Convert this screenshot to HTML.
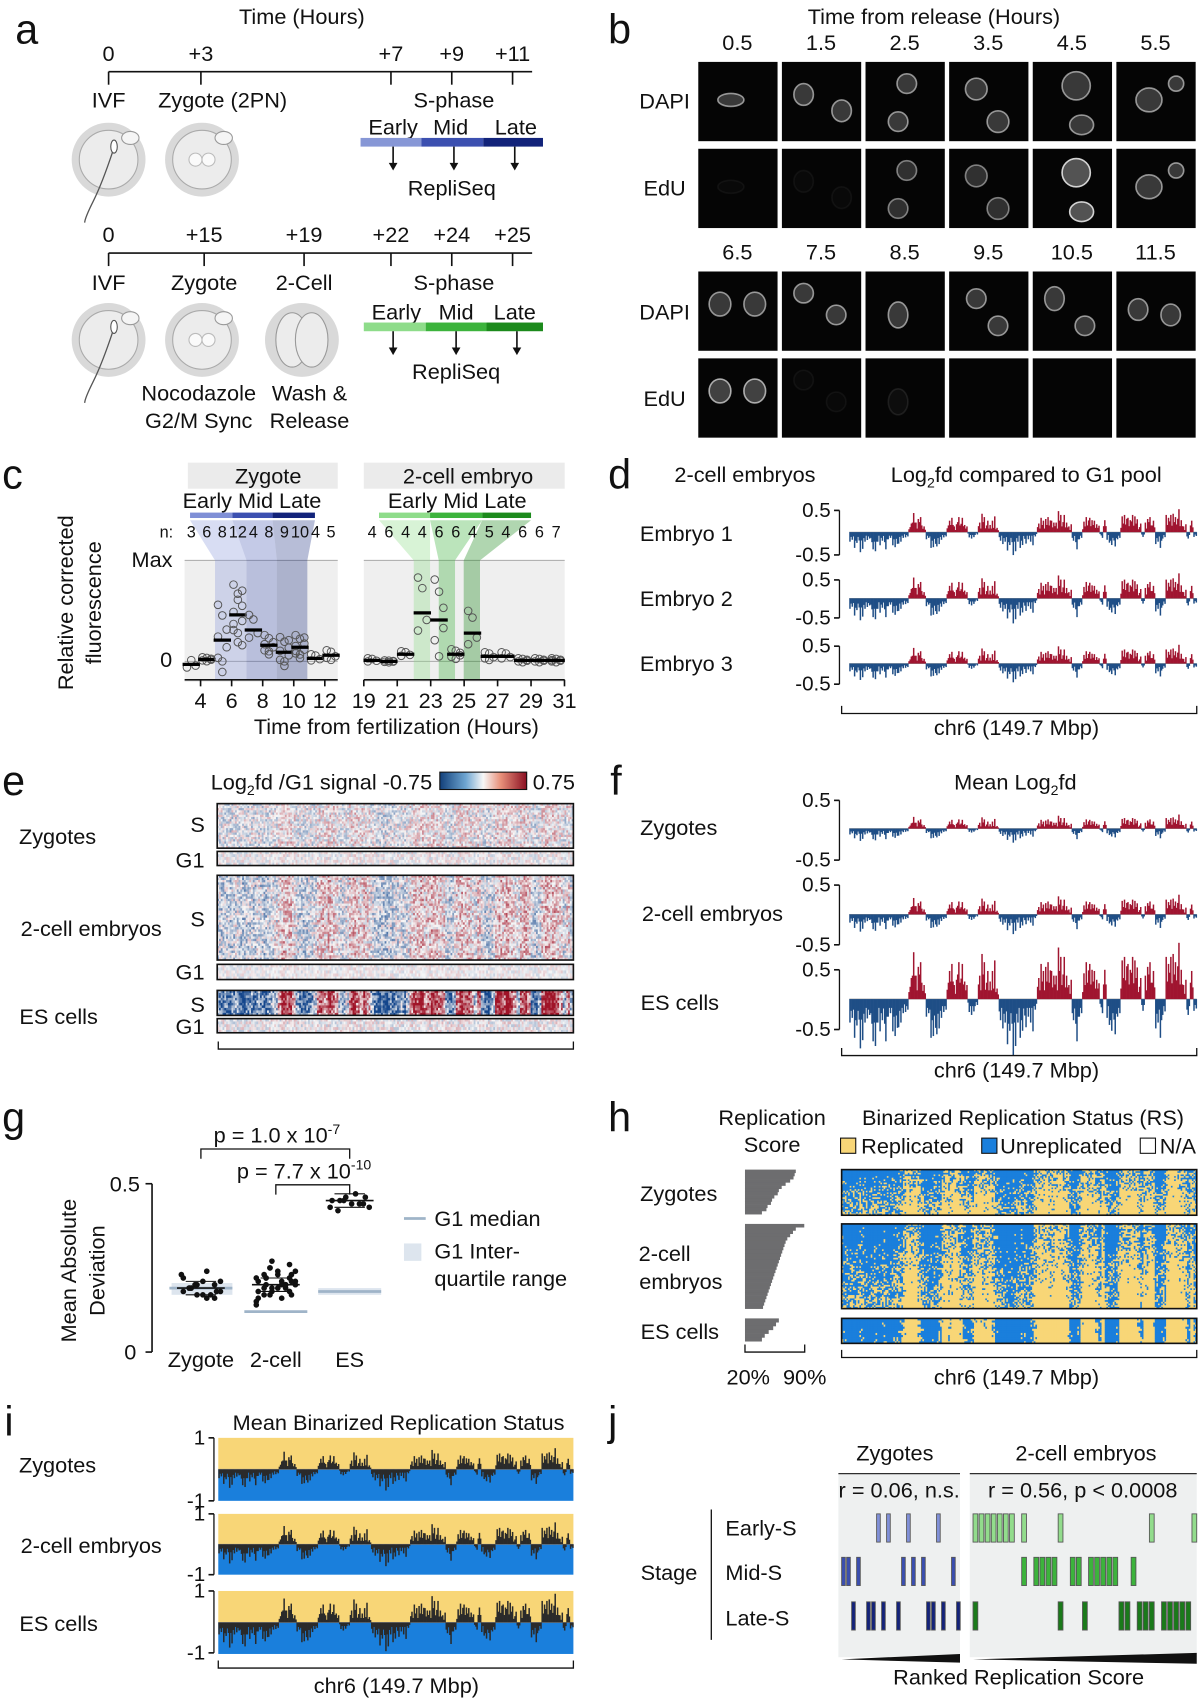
<!DOCTYPE html>
<html><head><meta charset="utf-8"><style>
html,body{margin:0;padding:0;background:#fff}
svg{display:block;font-family:"Liberation Sans",sans-serif}
text{fill:#111}
</style></head><body>
<svg id="fig" width="1200" height="1705" viewBox="0 0 1105 1570" preserveAspectRatio="none" xmlns="http://www.w3.org/2000/svg">
<g font-size="20" text-anchor="middle">
<text x="14" y="40" font-size="38" text-anchor="start">a</text>
<text x="560" y="40" font-size="38" text-anchor="start">b</text>
<text x="2" y="450" font-size="38" text-anchor="start">c</text>
<text x="560" y="450" font-size="38" text-anchor="start">d</text>
<text x="2" y="732" font-size="38" text-anchor="start">e</text>
<text x="562" y="732" font-size="38" text-anchor="start">f</text>
<text x="2" y="1042" font-size="38" text-anchor="start">g</text>
<text x="560" y="1042" font-size="38" text-anchor="start">h</text>
<text x="4" y="1322" font-size="38" text-anchor="start">i</text>
<text x="560" y="1322" font-size="38" text-anchor="start">j</text>

<text x="278" y="22">Time (Hours)</text>
<g>
<text x="100" y="56">0</text><text x="185" y="56">+3</text><text x="360" y="56">+7</text><text x="416" y="56">+9</text><text x="472" y="56">+11</text>
<text x="100" y="99">IVF</text><text x="205" y="99">Zygote (2PN)</text><text x="418" y="99">S-phase</text>
<text x="362" y="124">Early</text><text x="415" y="124">Mid</text><text x="475" y="124">Late</text>
<text x="416" y="180">RepliSeq</text>
</g>
<g>
<text x="100" y="223">0</text><text x="188" y="223">+15</text><text x="280" y="223">+19</text><text x="360" y="223">+22</text><text x="416" y="223">+24</text><text x="472" y="223">+25</text>
<text x="100" y="267">IVF</text><text x="188" y="267">Zygote</text><text x="280" y="267">2-Cell</text><text x="418" y="267">S-phase</text>
<text x="365" y="294">Early</text><text x="420" y="294">Mid</text><text x="474" y="294">Late</text>
<text x="420" y="349">RepliSeq</text>
<text x="183" y="369">Nocodazole</text><text x="183" y="394">G2/M Sync</text>
<text x="285" y="369">Wash &amp;</text><text x="285" y="394">Release</text>
</g>

<text x="860" y="22">Time from release (Hours)</text>
<g>
<text x="612" y="100">DAPI</text><text x="612" y="180">EdU</text><text x="612" y="294">DAPI</text><text x="612" y="374">EdU</text>
</g>

<rect x="173" y="426" width="138" height="24" fill="#ebebeb"/>
<rect x="335" y="426" width="185" height="24" fill="#ebebeb"/>
<text x="247" y="445">Zygote</text>
<text x="431" y="445">2-cell embryo</text>
<text x="232" y="468">Early Mid Late</text>
<text x="421" y="468">Early Mid Late</text>
<text x="147" y="495" font-size="15" text-anchor="start">n:</text>
<text x="140" y="522">Max</text>
<text x="153" y="614">0</text>
<text x="365" y="676">Time from fertilization (Hours)</text>
<text transform="translate(67,555) rotate(-90)">Relative corrected</text>
<text transform="translate(93,555) rotate(-90)">fluorescence</text>

<text x="686" y="444">2-cell embryos</text>
<text x="945" y="444">Log<tspan font-size="13" dy="5">2</tspan><tspan dy="-5">fd compared to G1 pool</tspan></text>
<g>
<text x="632" y="498">Embryo 1</text><text x="632" y="558">Embryo 2</text><text x="632" y="618">Embryo 3</text>
</g>
<text x="936" y="677">chr6 (149.7 Mbp)</text>

<text x="296" y="727">Log<tspan font-size="13" dy="5">2</tspan><tspan dy="-5">fd /G1 signal -0.75</tspan></text>
<text x="510" y="727">0.75</text>
<g>
<text x="53" y="777">Zygotes</text><text x="84" y="862">2-cell embryos</text><text x="54" y="943">ES cells</text>
<text x="182" y="766">S</text><text x="175" y="799">G1</text>
<text x="182" y="853">S</text><text x="175" y="902">G1</text>
<text x="182" y="932">S</text><text x="175" y="952">G1</text>
</g>

<text x="935" y="727">Mean Log<tspan font-size="13" dy="5">2</tspan><tspan dy="-5">fd</tspan></text>
<g>
<text x="625" y="769">Zygotes</text><text x="656" y="848">2-cell embryos</text><text x="626" y="930">ES cells</text>
</g>
<text x="936" y="992">chr6 (149.7 Mbp)</text>

<text transform="translate(70,1170) rotate(-90)">Mean Absolute</text>
<text transform="translate(96,1170) rotate(-90)">Deviation</text>
<text x="115" y="1097">0.5</text>
<text x="120" y="1252">0</text>
<text x="185" y="1259">Zygote</text>
<text x="254" y="1259">2-cell</text>
<text x="322" y="1259">ES</text>
<text x="255" y="1052">p = 1.0 x 10<tspan font-size="13" dy="-8">-7</tspan></text>
<text x="280" y="1085">p = 7.7 x 10<tspan font-size="13" dy="-8">-10</tspan></text>
<text x="400" y="1129" text-anchor="start">G1 median</text>
<text x="400" y="1159" text-anchor="start">G1 Inter-</text>
<text x="400" y="1184" text-anchor="start">quartile range</text>

<text x="711" y="1036">Replication</text>
<text x="711" y="1061">Score</text>
<text x="942" y="1036">Binarized Replication Status (RS)</text>
<g text-anchor="start">
<rect x="774" y="1048" width="14" height="14" fill="#f8d677" stroke="#111"/><text x="793" y="1062">Replicated</text>
<rect x="904" y="1048" width="14" height="14" fill="#1a7fdc" stroke="#111"/><text x="921" y="1062">Unreplicated</text>
<rect x="1050" y="1048" width="14" height="14" fill="#fff" stroke="#111"/><text x="1068" y="1062">N/A</text>
</g>
<g>
<text x="625" y="1106">Zygotes</text><text x="612" y="1161">2-cell</text><text x="627" y="1187">embryos</text><text x="626" y="1233">ES cells</text>
</g>
<text x="689" y="1275">20%</text>
<text x="741" y="1275">90%</text>
<text x="936" y="1275">chr6 (149.7 Mbp)</text>

<text x="367" y="1317">Mean Binarized Replication Status</text>
<g>
<text x="53" y="1356">Zygotes</text><text x="84" y="1430">2-cell embryos</text><text x="54" y="1502">ES cells</text>
</g>
<text x="365" y="1559">chr6 (149.7 Mbp)</text>

<text x="824" y="1345">Zygotes</text>
<text x="1000" y="1345">2-cell embryos</text>
<text x="938" y="1551">Ranked Replication Score</text>
<text x="616" y="1455">Stage</text>
<g text-anchor="start">
<text x="668" y="1414">Early-S</text><text x="668" y="1455">Mid-S</text><text x="668" y="1497">Late-S</text>
</g>
</g>
<g id="marks"></g>
</svg>
<script>
// ---------- data ----------
const chr6Profile = [-0.4,-0.6,-0.5,-0.7,-0.5,-0.3,-0.6,-0.8,-0.5,-0.4,-0.6,-0.3,-0.5,-0.7,-0.4,-0.3,-0.2,
 0.3,0.8,0.5,0.7,0.2,-0.3,-0.6,-0.7,-0.5,-0.4,-0.2,0.4,0.6,0.3,0.7,0.5,0.3,-0.2,-0.3,-0.1,
 0.5,0.7,0.4,0.3,0.6,0.2,-0.3,-0.5,-0.7,-0.6,-0.8,-0.5,-0.6,-0.4,-0.3,-0.5,-0.2,
 0.3,0.6,0.5,0.7,0.4,0.5,0.8,0.6,0.4,0.3,-0.4,-0.6,-0.3,0.4,0.7,0.5,0.6,0.3,-0.2,0.5,
 -0.4,-0.6,-0.5,-0.3,0.6,0.8,0.5,0.9,0.6,0.3,-0.2,0.5,0.7,0.4,-0.5,-0.6,-0.3,
 0.6,0.9,0.7,0.8,0.5,0.3,-0.3,0.4,-0.2];
const spikeTexture = [1,0.5,0.8,0.3,1.1,0.6,0.9,0.4,0.7,1.2,0.5];
const embryoScales = [0.55,0.6,0.45];
const meanLogfdScales = [0.25,0.35,1.0];
const meanRSScales = [0.7,0.75,0.95];
const zygTimes = [3.4,4.4,5.4,6.4,7.4,8.4,9.4,10.4,11.4,12.4];
const zygMedians = [-0.03,0.02,0.21,0.46,0.31,0.16,0.09,0.14,0.03,0.06];
const zygN = [3,6,8,12,4,8,9,10,4,5];
const zygSpread = [0.06,0.02,0.35,0.3,0.15,0.1,0.15,0.12,0.04,0.05];
const twoTimes = [19.5,20.5,21.5,22.5,23.5,24.5,25.5,26.5,27.5,28.5,29.5,30.5];
const twoMedians = [0.01,0,0.07,0.48,0.41,0.07,0.28,0.05,0.05,0.01,0.01,0.01];
const twoN = [4,6,4,4,6,6,4,5,4,6,6,7];
const twoSpread = [0.02,0.01,0.03,0.35,0.4,0.05,0.22,0.04,0.04,0.02,0.02,0.02];
const pointOffsets = [-0.5,0.7,-0.2,1.0,-0.9,0.3,0.1,-0.6,0.8,-0.3,0.5,-1.0];
const gZyg = [0.19,0.2,0.17,0.18,0.22,0.16,0.21,0.19,0.18,0.2,0.17,0.23,0.19,0.16,0.2,0.21,0.18,0.24,0.17,0.19];
const g2c = [0.2,0.22,0.18,0.24,0.16,0.21,0.19,0.23,0.17,0.25,0.2,0.15,0.22,0.18,0.27,0.2,0.21,0.16,0.24,0.19,0.23,0.17,0.2,0.14,0.22,0.26,0.19,0.21,0.18,0.2,0.23,0.17,0.21,0.25,0.19,0.22];
const gES = [0.45,0.44,0.46,0.43,0.45,0.47,0.44,0.42,0.46,0.45,0.44,0.43];
const gMedians = [0.19,0.2,0.45];
const g1Medians = [0.19,0.12,0.18];
const zygScores = [0.9,0.88,0.86,0.8,0.72,0.65,0.6,0.58,0.52,0.48,0.46,0.4,0.38,0.3];
const twoScores = [1.05,0.9,0.85,0.8,0.75,0.72,0.7,0.68,0.66,0.64,0.62,0.6,0.58,0.56,0.54,0.52,0.5,0.48,0.46,0.44,0.42,0.4,0.38,0.36,0.34,0.32];
const esScores = [0.6,0.55,0.5,0.42,0.35,0.3];
const zygEarly = [7,9,13,19], zygMid = [0,1,3,12,14,16,22], zygLate = [2,5,6,8,11,17,18,20,23];
const twoEarly = [0,1,2,3,4,5,6,8,14,29,36], twoMid = [8,10,11,12,13,16,17,19,20,21,22,23,26], twoLate = [0,14,18,24,25,27,28,29,31,32,33,34,35];

// ---------- helpers ----------
const NS = "http://www.w3.org/2000/svg";
const root = document.getElementById('marks');
function E(tag, attrs, name, parent){
  const e = document.createElementNS(NS, tag);
  for (const k in attrs) e.setAttribute(k, attrs[k]);
  
  
  (parent||root).appendChild(e);
  return e;
}
function line(x1,y1,x2,y2,name,stroke,w){return E('line',{x1,y1,x2,y2,stroke:stroke||'#111','stroke-width':w||1.5},name);}
function hash(i,j){let h=Math.sin(i*12.9898+j*78.233)*43758.5453;return h-Math.floor(h);}

// ---------- panel a ----------
function cell(cx,cy,name,kind){
  const g=E('g',{},name);
  E('circle',{cx,cy,r:34,fill:'#d9d9d9'},name+'-zona',g);
  if(kind==='two'){
    E('ellipse',{cx:cx-9,cy,rx:15,ry:25,fill:'#ececec',stroke:'#999'},name+'-blast-l',g);
    E('ellipse',{cx:cx+9,cy,rx:15,ry:25,fill:'#ececec',stroke:'#999'},name+'-blast-r',g);
  } else {
    E('circle',{cx,cy,r:27,fill:'#ececec',stroke:'#aaa'},name+'-cytoplasm',g);
    E('ellipse',{cx:cx+20,cy:cy-20,rx:8,ry:6,fill:'#f5f5f5',stroke:'#999'},name+'-polar-body',g);
    if(kind==='ivf'){
      E('path',{d:`M${cx+4},${cy-8} q-10,30 -18,46 t-8,20`,fill:'none',stroke:'#555','stroke-width':1.2},name+'-sperm-tail',g);
      E('ellipse',{cx:cx+5,cy:cy-12,rx:3,ry:6,fill:'#fff',stroke:'#555'},name+'-sperm-head',g);
    } else {
      E('circle',{cx:cx-6,cy,r:6,fill:'#fafafa',stroke:'#bbb'},name+'-pn1',g);
      E('circle',{cx:cx+6,cy,r:6,fill:'#fafafa',stroke:'#bbb'},name+'-pn2',g);
    }
  }
}
function timeline(y,xs,name){
  line(100,y,490,y,name+'-axis');
  xs.forEach((x,i)=>line(x,y,x,y+12,name+'-tick'));
}
timeline(66,[100,185,360,416,472],'timeline-1');
timeline(233,[100,188,280,360,416,472],'timeline-2');
[['#8797d6',332,388],['#3c50b0',388,445],['#12237a',445,500]].forEach((s,i)=>E('rect',{x:s[1],y:127,width:s[2]-s[1],height:8,fill:s[0]},'s-phase-bar-zygote'));
[['#8edc8a',335,392],['#3cb33c',392,448],['#1c8a1c',448,500]].forEach((s,i)=>E('rect',{x:s[1],y:297,width:s[2]-s[1],height:8,fill:s[0]},'s-phase-bar-2cell'));
function arrow(x,y1,y2,name){line(x,y1,x,y2-6,name);E('path',{d:`M${x-4},${y2-7} L${x+4},${y2-7} L${x},${y2} Z`,fill:'#111'},name+'-head');}
[362,418,474].forEach(x=>arrow(x,135,157,'repliseq-arrow-zygote'));
[362,420,476].forEach(x=>arrow(x,305,327,'repliseq-arrow-2cell'));
cell(100,147,'ivf-egg-1','ivf');cell(186,147,'zygote-2pn','pn');
cell(100,313,'ivf-egg-2','ivf');cell(186,313,'zygote-noco','pn');cell(278,313,'two-cell','two');

// ---------- panel b ----------
const bLabels1=['0.5','1.5','2.5','3.5','4.5','5.5'], bLabels2=['6.5','7.5','8.5','9.5','10.5','11.5'];
const bCols=[643,720,797,874,951,1028];
const nucleiTop=[[[30,35,12,6]],[[20,30,9,10],[55,45,9,10]],[[38,20,9,9],[30,55,9,9]],[[25,25,10,10],[45,55,10,10]],[[40,22,13,13],[45,58,11,9]],[[30,35,12,11],[55,20,7,7]]];
const nucleiBot=[[[20,30,10,11],[52,30,10,11]],[[20,20,9,9],[50,40,9,9]],[[30,40,9,12]],[[25,25,9,9],[45,50,9,9]],[[20,25,9,11],[48,50,9,9]],[[20,35,9,10],[50,40,9,10]]];
const eduTop=[0.05,0.05,0.5,0.5,0.9,0.6], eduBot=[0.7,0.05,0.1,0.03,0.03,0.03];
function bPanel(y0,labels,nuc,edu,tag){
  bCols.forEach((x,i)=>{
    E('text',{x:x+36,y:y0-11,'text-anchor':'middle','font-size':20},'b-time-label-'+labels[i]).textContent=labels[i];
    [0,1].forEach(r=>{
      const yy=y0+r*80;
      E('rect',{x,y:yy,width:73,height:73,fill:'#050505'},'micrograph-'+(r?'edu':'dapi')+'-'+tag+i);
      nuc[i].forEach(n=>{
        const b=r?edu[i]:0.6;
        if(b>0.04) E('ellipse',{cx:x+n[0],cy:yy+n[1],rx:n[2],ry:n[3],fill:`rgba(150,150,150,${b*0.6})`,stroke:`rgba(230,230,230,${b})`,'stroke-width':1.5},'nucleus');
      });
    });
  });
}
bPanel(57,bLabels1,nucleiTop,eduTop,'t');
bPanel(250,bLabels2,nucleiBot,eduBot,'b');

// ---------- panel c ----------
const cZero=609, cMax=516, cScale=cZero-cMax;
const xz=t=>184.7+(t-4)*14.3;
const x2=t=>335+(t-19)*15.4;
const yc=v=>cZero-v*cScale;
E('rect',{x:170,y:cMax,width:141,height:112,fill:'#efefef'},'zygote-plot-bg');
E('rect',{x:335,y:cMax,width:185,height:112,fill:'#efefef'},'two-cell-plot-bg');
line(170,cMax,311,cMax,'max-gridline','#aaa',1);line(335,cMax,520,cMax,'max-gridline','#aaa',1);
line(170,cZero,311,cZero,'zero-gridline','#aaa',1);line(335,cZero,520,cZero,'zero-gridline','#aaa',1);
[[175,214,198,227,'#7f8fd6'],[214,251,227,255,'#3c50b0'],[251,290,255,283,'#12237a']].forEach((f,i)=>{
  E('rect',{x:f[0],y:472,width:f[1]-f[0],height:5,fill:f[4]},'zygote-stage-bar');
  E('path',{d:`M${f[0]},479 L${f[1]},479 L${f[3]},${cMax} L${f[3]},626 L${f[2]},626 L${f[2]},${cMax} Z`,fill:f[4],opacity:0.3},'zygote-stage-funnel');
});
[[349,396,381,396,'#8edc8a'],[396,444,404,419,'#3cb33c'],[444,489,427,442,'#1c8a1c']].forEach(f=>{
  E('rect',{x:f[0],y:472,width:f[1]-f[0],height:5,fill:f[4]},'two-cell-stage-bar');
  E('path',{d:`M${f[0]},479 L${f[1]},479 L${f[3]},${cMax} L${f[3]},626 L${f[2]},626 L${f[2]},${cMax} Z`,fill:f[4],opacity:0.35},'two-cell-stage-funnel');
});
function cSeries(times,meds,ns,spr,xf,tag){
  times.forEach((t,i)=>{
    const x=xf(t);
    E('text',{x,y:495,'text-anchor':'middle','font-size':15},'n-count-'+tag).textContent=ns[i];
    for(let j=0;j<ns[i];j++){
      const v=meds[i]+spr[i]*pointOffsets[j%12];
      E('circle',{cx:x+((j%3)-1)*4,cy:yc(v),r:3.5,fill:'none',stroke:'#555','stroke-width':0.9},'cell-point-'+tag);
    }
    line(x-8,yc(meds[i]),x+8,yc(meds[i]),'median-bar-'+tag,'#000',3);
  });
}
cSeries(zygTimes,zygMedians,zygN,zygSpread,xz,'zygote');
cSeries(twoTimes,twoMedians,twoN,twoSpread,x2,'2cell');
line(170,626,311,626,'c-x-axis-zygote');line(335,626,520,626,'c-x-axis-2cell');
[4,6,8,10,12].forEach(t=>{line(xz(t),626,xz(t),632,'c-x-tick');E('text',{x:xz(t),y:652,'text-anchor':'middle','font-size':20},'c-x-tick-label').textContent=t;});
[19,21,23,25,27,29,31].forEach(t=>{line(x2(t),626,x2(t),632,'c-x-tick');E('text',{x:x2(t),y:652,'text-anchor':'middle','font-size':20},'c-x-tick-label').textContent=t;});

// ---------- genome tracks ----------
const X0=782, X1=1102;
function track(x0,x1,base,amp,scale,name,mode){
  const n=chr6Profile.length, w=(x1-x0)/n;
  if(mode==='rs'){
    E('rect',{x:x0,y:base-amp,width:x1-x0,height:amp,fill:'#f8d677'},name+'-replicated-bg');
    E('rect',{x:x0,y:base,width:x1-x0,height:amp,fill:'#1a7fdc'},name+'-unreplicated-bg');
  }
  line(x0,base,x1,base,name+'-baseline','#999',0.8);
  chr6Profile.forEach((v,i)=>{
    for(let k=0;k<3;k++){
      const tex=spikeTexture[(i*3+k)%spikeTexture.length];
      const val=v*scale*tex;
      const h=Math.abs(val)*amp;
      const col=mode==='rs'?'#2a2a2a':(val>0?'#a01530':'#1f4e86');
      E('rect',{x:x0+i*w+k*w/3,y:val>0?base-h:base,width:w/3+0.3,height:Math.max(h,0.5),fill:col},name+'-bar');
    }
  });
}
function yaxis(x,yt,yb,lt,lb,name){
  line(x,yt,x,yb,name+'-axis',"#111",1.2);
  line(x-5,yt,x,yt,name+'-tick');line(x-5,yb,x,yb,name+'-tick');
  E('text',{x:x-8,y:yt+6,'text-anchor':'end','font-size':19},name+'-top-label').textContent=lt;
  E('text',{x:x-8,y:yb+6,'text-anchor':'end','font-size':19},name+'-bottom-label').textContent=lb;
}
function bracket(x0,x1,y,name){E('path',{d:`M${x0},${y-7} L${x0},${y} L${x1},${y} L${x1},${y-7}`,fill:'none',stroke:'#111','stroke-width':1.2},name);}
[[490,470,511],[551,534,569],[611,595,630]].forEach((b,i)=>{
  track(X0,X1,b[0],40,embryoScales[i],'embryo-'+(i+1)+'-track');
  yaxis(773,b[1],b[2],'0.5','-0.5','d-embryo-'+(i+1));
});
bracket(775,1102,657,'d-chr-bracket');
[[763,737,792],[842,815,870],[920,893,948]].forEach((b,i)=>{
  track(X0,X1,b[0],54,meanLogfdScales[i],'mean-logfd-track-'+i);
  yaxis(773,b[1],b[2],'0.5','-0.5','f-track-'+i);
});
bracket(775,1102,972,'f-chr-bracket');

// ---------- heatmaps ----------
function divColor(v){
  v=Math.max(-1,Math.min(1,v));
  const lerp=(a,b,t)=>Math.round(a+(b-a)*t);
  if(v<0){const t=-v;return `rgb(${lerp(247,20,t)},${lerp(247,70,t)},${lerp(247,140,t)})`;}
  const t=v;return `rgb(${lerp(247,160,t)},${lerp(247,20,t)},${lerp(247,40,t)})`;
}
function heat(x0,x1,y0,y1,rows,cols,gain,noise,name,binary,rowShift){
  const g=E('g',{},name);
  const n=chr6Profile.length, w=(x1-x0)/cols, h=(y1-y0)/rows;
  E('rect',{x:x0,y:y0,width:x1-x0,height:y1-y0,fill:binary?'#fff':'#f2f2f2'},name+'-bg',g);
  for(let r=0;r<rows;r++){
    for(let c=0;c<cols;c++){
      const i=Math.floor(c*n/cols);
      const nz=(hash(c+1,r+rows*7+x0)-0.5)*2*noise;
      const v=chr6Profile[i]*gain+nz+(rowShift?rowShift*(r/(rows-1)-0.5):0);
      const fill=binary?(v>0?'#f8d677':'#1a7fdc'):divColor(v);
      E('rect',{x:x0+c*w,y:y0+r*h,width:w+0.4,height:h+0.4,fill},name+'-cell',g);
    }
  }
  E('rect',{x:x0,y:y0,width:x1-x0,height:y1-y0,fill:'none',stroke:'#111','stroke-width':1.5},name+'-frame',g);
}
const defs=E('defs',{},'defs');
const lg=E('linearGradient',{id:'divgrad'},'colorbar-gradient',defs);
[[0,'#12407a'],[0.3,'#6fa6d2'],[0.5,'#f7f7f7'],[0.7,'#e8907a'],[1,'#8a0f22']].forEach(s=>E('stop',{offset:s[0],'stop-color':s[1]},'gradient-stop',lg));
E('rect',{x:405,y:711,width:80,height:16,fill:'url(#divgrad)',stroke:'#111'},'e-colorbar');
heat(200,528,740,781,20,200,0.15,0.4,'zygote-s-heatmap');
heat(200,528,784,797,5,200,0.02,0.25,'zygote-g1-heatmap');
heat(200,528,806,884,36,200,0.35,0.45,'two-cell-s-heatmap');
heat(200,528,888,902,5,200,0.02,0.2,'two-cell-g1-heatmap');
heat(200,528,912,935,10,200,1.3,0.5,'es-s-heatmap');
heat(200,528,938,951,5,200,0.02,0.3,'es-g1-heatmap');
bracket(201,528,966,'e-chr-bracket');

// ---------- panel g ----------
const gx0=140, gy0=1245, gy1=1090;
const yg=v=>gy0-(v/0.5)*(gy0-gy1);
line(gx0,gy1,gx0,gy0,'g-y-axis');line(gx0,gy1,gx0-6,gy1,'g-y-tick');line(gx0,gy0,gx0-6,gy0,'g-y-tick');
const gCenters=[185,254,322];
E('rect',{x:158,y:yg(0.205),width:56,height:yg(0.17)-yg(0.205),fill:'#dde5ee'},'g1-iqr-zygote');
E('rect',{x:293,y:yg(0.19),width:58,height:yg(0.17)-yg(0.19),fill:'#dde5ee'},'g1-iqr-es');
gCenters.forEach((c,i)=>line(c-29,yg(g1Medians[i]),c+29,yg(g1Medians[i]),'g1-median-line','#9fb4c8',2.5));
[gZyg,g2c,gES].forEach((arr,k)=>{
  arr.forEach((v,j)=>E('circle',{cx:gCenters[k]+pointOffsets[j%12]*18,cy:yg(v),r:2.6,fill:'#111'},'mad-point'));
  line(gCenters[k]-22,yg(gMedians[k]),gCenters[k]+22,yg(gMedians[k]),'mad-median','#111',1.5);
  line(gCenters[k]-14,yg(gMedians[k]+0.02),gCenters[k]+14,yg(gMedians[k]+0.02),'mad-quartile','#111',1);
  line(gCenters[k]-14,yg(gMedians[k]-0.02),gCenters[k]+14,yg(gMedians[k]-0.02),'mad-quartile','#111',1);
});
E('path',{d:'M185,1067 L185,1058 L322,1058 L322,1067',fill:'none',stroke:'#111','stroke-width':1.2},'p-bracket-1');
E('path',{d:'M254,1100 L254,1091 L322,1091 L322,1100',fill:'none',stroke:'#111','stroke-width':1.2},'p-bracket-2');
line(372,1122,392,1122,'legend-median-swatch','#9fb4c8',2.5);
E('rect',{x:372,y:1145,width:16,height:16,fill:'#dde5ee'},'legend-iqr-swatch');

// ---------- panel h ----------
function scoreBars(arr,y0,y1,name){
  const h=(y1-y0)/arr.length;
  arr.forEach((s,i)=>E('rect',{x:686,y:y0+i*h,width:s*52,height:h+0.3,fill:'#6d6d6f'},name));
}
scoreBars(zygScores,1077,1118,'zygote-score-bar');
scoreBars(twoScores,1127,1205,'two-cell-score-bar');
scoreBars(esScores,1214,1235,'es-score-bar');
E('path',{d:'M686,1238 L686,1245 L741,1245 L741,1238',fill:'none',stroke:'#111','stroke-width':1.2},'score-axis');
heat(775,1102,1077,1119,28,220,0.9,0.9,'zygote-rs-heatmap',true,1.0);
heat(775,1102,1127,1205,50,220,1.0,0.9,'two-cell-rs-heatmap',true,1.0);
heat(775,1102,1214,1237,12,220,1.6,0.7,'es-rs-heatmap',true,0.4);
bracket(775,1102,1250,'h-chr-bracket');

// ---------- panel i ----------
[[1353,1324,1382],[1422,1394,1450],[1494,1465,1522]].forEach((b,i)=>{
  track(201,528,b[0],b[0]-b[1],meanRSScales[i],'mean-rs-track-'+i,'rs');
  yaxis(197,b[1],b[2],'1','-1','i-track-'+i);
});
bracket(201,528,1536,'i-chr-bracket');

// ---------- panel j ----------
E('rect',{x:772,y:1358,width:112,height:168,fill:'#eef0f0'},'j-zygote-bg');
E('rect',{x:893,y:1358,width:209,height:168,fill:'#eef0f0'},'j-2cell-bg');
line(772,1357,884,1357,'j-zygote-header-line','#111',1);line(893,1357,1102,1357,'j-2cell-header-line','#111',1);
E('text',{x:828,y:1379,'text-anchor':'middle','font-size':20},'j-zygote-r').textContent='r = 0.06, n.s.';
E('text',{x:997,y:1379,'text-anchor':'middle','font-size':20},'j-2cell-r').textContent='r = 0.56, p < 0.0008';
line(655,1390,655,1510,'j-stage-axis','#111',1.2);
function ranks(arr,x0,slot,y,fill,name){arr.forEach(r=>E('rect',{x:x0+r*slot,y,width:slot-1.2,height:26,fill,stroke:'#555','stroke-width':0.8},name));}
ranks(zygEarly,775,4.6,1394,'#8090d8','zygote-early-rank');
ranks(zygMid,775,4.6,1434,'#3a4eb0','zygote-mid-rank');
ranks(zygLate,775,4.6,1475,'#14237a','zygote-late-rank');
ranks(twoEarly,896,5.6,1394,'#92dc8c','two-cell-early-rank');
ranks(twoMid,896,5.6,1434,'#3cb33c','two-cell-mid-rank');
ranks(twoLate,896,5.6,1475,'#1a7a1a','two-cell-late-rank');
E('path',{d:'M775,1528 L884,1523 L884,1531 Z',fill:'#111'},'j-rank-wedge-zygote');
E('path',{d:'M896,1528 L1102,1522 L1102,1532 Z',fill:'#111'},'j-rank-wedge-2cell');
</script>
</body></html>
